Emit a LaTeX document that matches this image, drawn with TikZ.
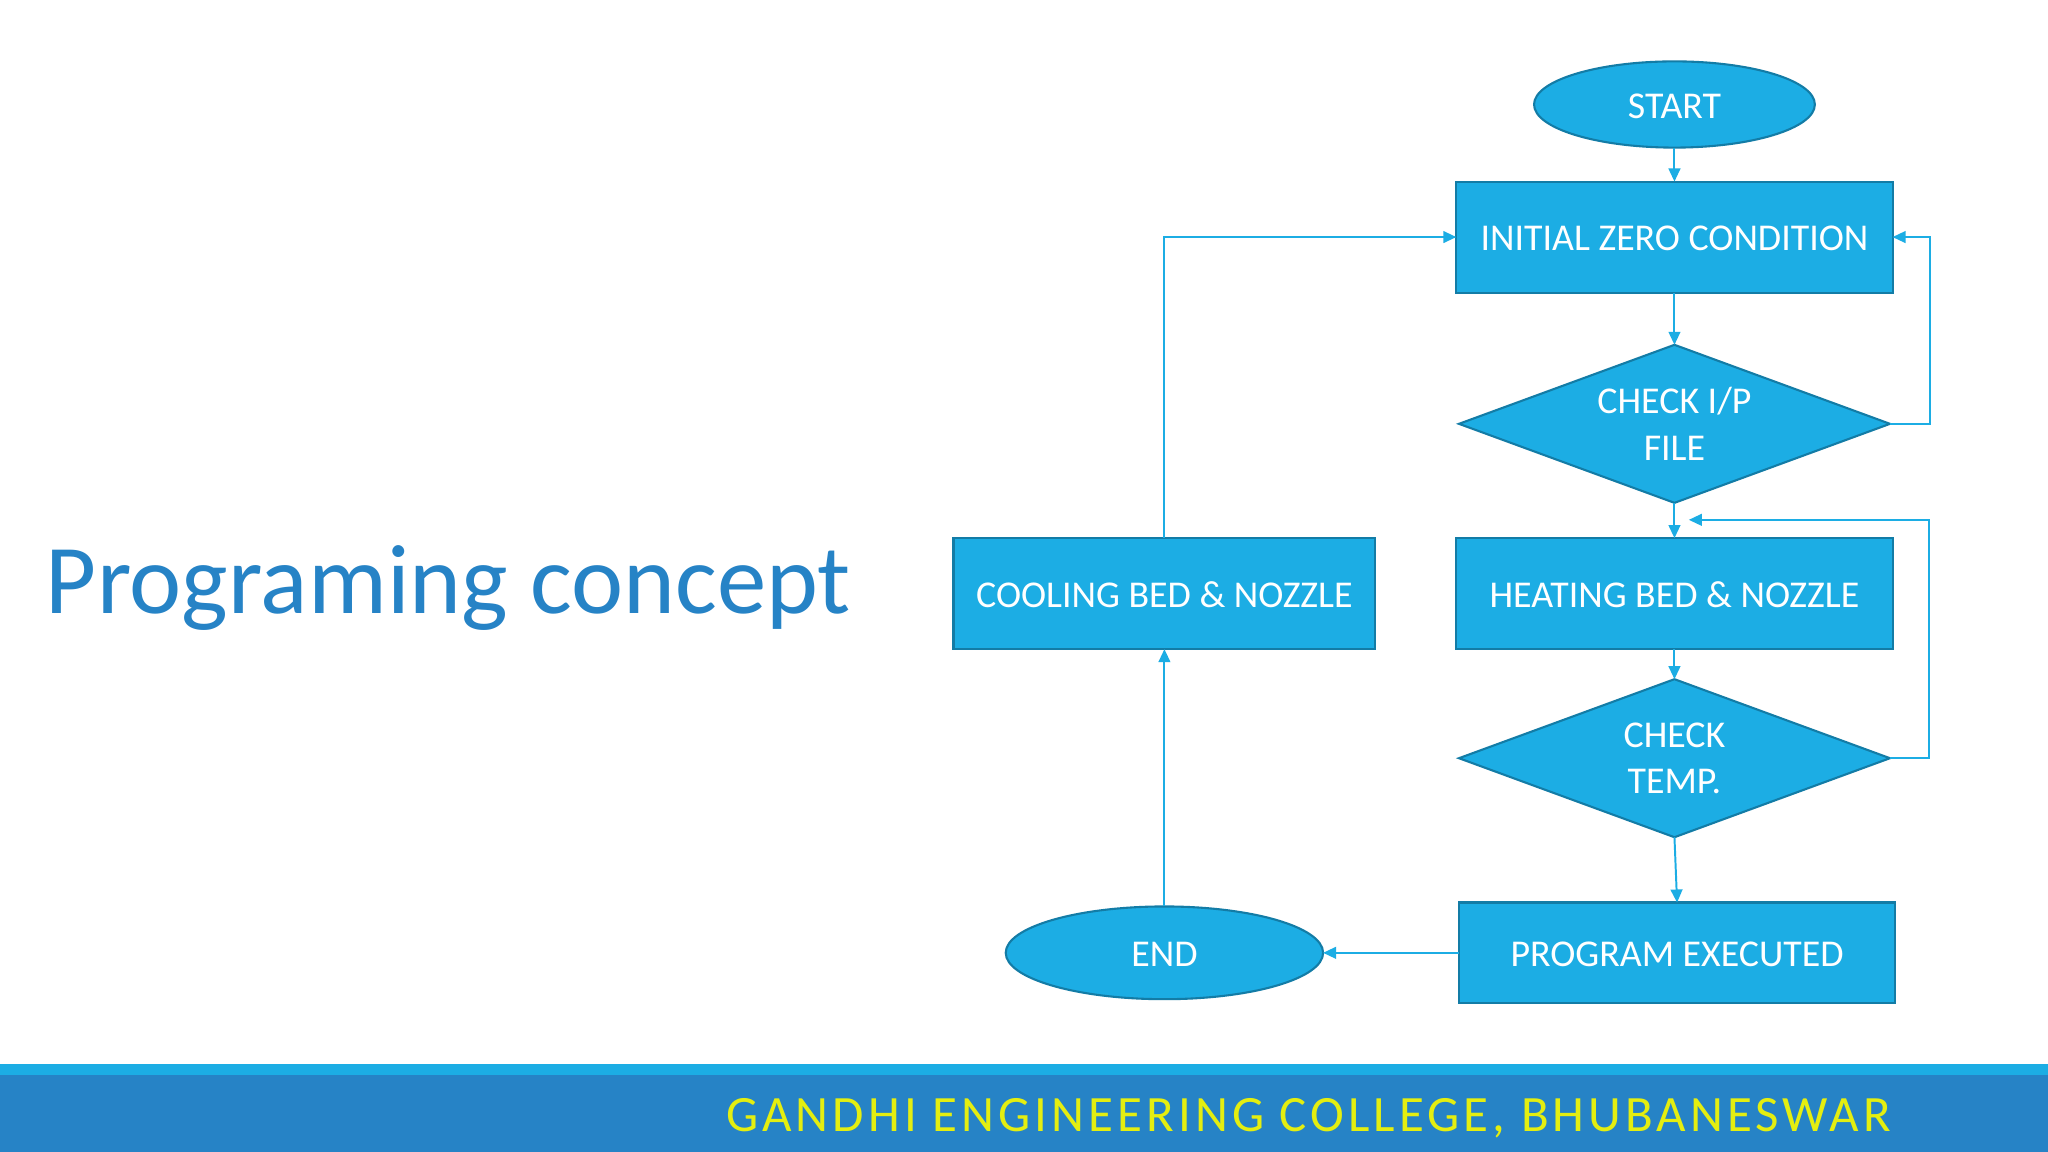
\documentclass[tikz,border=0pt]{standalone}
\usepackage{fontspec}
\setmainfont{Carlito}
\newfontfamily\bandfont[LetterSpace=8]{Carlito}
\usetikzlibrary{shapes.geometric,arrows.meta,calc}
\definecolor{flowfill}{HTML}{1CADE4}
\definecolor{flowedge}{HTML}{137CA6}
\definecolor{deepblue}{HTML}{2683C6}
\definecolor{bandyellow}{HTML}{E4EE10}
\tikzset{
  x=1pt,y=-1pt,
  flowbase/.style={fill=flowfill,draw=flowedge,line width=1.6pt,text=white,inner sep=0pt,outer sep=0pt,align=center,font=\fontsize{29}{35.5}\selectfont},
  oneline/.style={text height=21pt,text depth=0pt},
  procbox/.style={flowbase,oneline,rectangle},
  termnode/.style={flowbase,oneline,ellipse},
  decide/.style={flowbase,diamond,aspect=2.727,minimum width=330pt,minimum height=121pt},
  link/.style={draw=flowfill,line width=1.5pt,-{Triangle[length=10pt,width=9pt]}},
}
\begin{document}
\begin{tikzpicture}
\useasboundingbox (0,0) rectangle (1568,882);
\fill[white] (0,0) rectangle (1568,882);
\fill[flowfill] (0,815) rectangle (1568,823);
\fill[deepblue] (0,823) rectangle (1568,882);
\node[anchor=base west,inner sep=0pt,text=deepblue,font=\fontsize{75.6}{80}\selectfont] (title) at (35,470) {Programing concept};
\node[anchor=base east,inner sep=0pt,text=bandyellow,font=\fontsize{39}{42}\bandfont] (college) at (1448,866) {GANDHI ENGINEERING COLLEGE, BHUBANESWAR};

\node[termnode,minimum width=215pt,minimum height=66pt] (start) at (1282,80) {START};
\node[procbox,minimum width=334pt,minimum height=85pt] (init) at (1282,181.5) {INITIAL ZERO CONDITION};
\node[decide] (checkip) at (1282,324.5) {CHECK I/P\\FILE};
\node[procbox,minimum width=334pt,minimum height=85pt] (heat) at (1282,454.5) {HEATING BED \& NOZZLE};
\node[decide] (checktemp) at (1282,580.5) {CHECK\\TEMP.};
\node[procbox,minimum width=334pt,minimum height=77pt] (prog) at (1284,729.5) {PROGRAM EXECUTED};
\node[termnode,minimum width=243pt,minimum height=71pt] (endn) at (891.5,729.5) {END};
\node[procbox,minimum width=323pt,minimum height=85pt] (cool) at (891.5,454.5) {COOLING BED \& NOZZLE};

\coordinate (heatin) at (1293,398);
\draw[link] (start) -- (init);
\draw[link] (init) -- (checkip);
\draw[link] (checkip) -- (heat);
\draw[link] (heat) -- (checktemp);
\draw[link] (checktemp.south) -- (prog.north);
\draw[link] (prog) -- (endn);
\draw[link] (endn) -- (cool);
\draw[link] (cool.north) |- (init.west);
\draw[link] (checkip.east) -- ++(31,0) |- (init.east);
\draw[link] (checktemp.east) -- ++(30,0) |- (heatin);
\end{tikzpicture}
\end{document}
